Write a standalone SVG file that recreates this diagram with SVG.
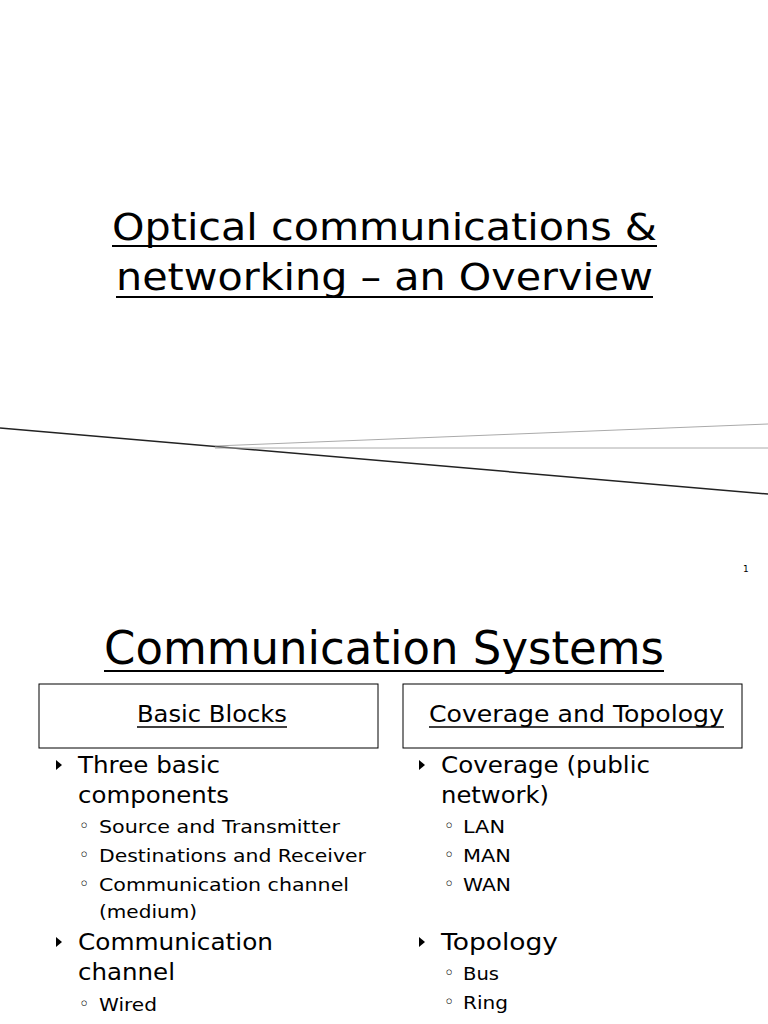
<svg xmlns="http://www.w3.org/2000/svg" width="768" height="1024" viewBox="0 0 768 1024">
<style>
text{font-family:"DejaVu Sans","Open Sans",sans-serif;fill:#000}
.t{font-size:38px}
.b{font-size:23px}
.s{font-size:18px}
.bx{fill:#fff;stroke:#000;stroke-width:1}
</style>
<rect width="768" height="1024" fill="#fff"/>
<g id="slide1">
<text class="t" x="112" y="240" textLength="545" lengthAdjust="spacingAndGlyphs">Optical communications &amp;</text>
<line x1="112" y1="246" x2="657" y2="246" stroke="#000" stroke-width="2"/>
<text class="t" x="116" y="290" textLength="537" lengthAdjust="spacingAndGlyphs">networking – an Overview</text>
<line x1="116" y1="297" x2="653" y2="297" stroke="#000" stroke-width="2"/>
<line x1="0" y1="428" x2="768" y2="494" stroke="#222" stroke-width="1.5"/>
<line x1="215" y1="446" x2="768" y2="424" stroke="#aaa" stroke-width="1"/>
<line x1="215" y1="448" x2="768" y2="448" stroke="#aaa" stroke-width="1"/>
<text x="743" y="572" style="font-size:9px">1</text>
</g>
<g id="slide2">
<text x="104" y="664" style="font-size:46px" textLength="560" lengthAdjust="spacingAndGlyphs">Communication Systems</text>
<line x1="104" y1="671" x2="664" y2="671" stroke="#000" stroke-width="2"/>
<g id="basic-blocks">
<rect class="bx" x="39" y="684" width="339" height="64"/>
<text x="137" y="722" style="font-size:23px" textLength="150" lengthAdjust="spacingAndGlyphs">Basic Blocks</text>
<line x1="137" y1="727" x2="287" y2="727" stroke="#000" stroke-width="1.3"/>
</g>
<g id="coverage-topology">
<rect class="bx" x="403" y="684" width="339" height="64"/>
<text x="429" y="722" style="font-size:23px" textLength="295" lengthAdjust="spacingAndGlyphs">Coverage and Topology</text>
<line x1="429" y1="727" x2="724" y2="727" stroke="#000" stroke-width="1.3"/>
</g>
<g id="left-col">
<polygon points="56,760 62,765 56,770"/>
<text class="b" x="78" y="773" textLength="142" lengthAdjust="spacingAndGlyphs">Three basic</text>
<text class="b" x="78" y="803" textLength="151" lengthAdjust="spacingAndGlyphs">components</text>
<text class="s" x="79" y="832">◦</text><text class="s" x="99" y="833" textLength="241" lengthAdjust="spacingAndGlyphs">Source and Transmitter</text>
<text class="s" x="79" y="861">◦</text><text class="s" x="99" y="862" textLength="267" lengthAdjust="spacingAndGlyphs">Destinations and Receiver</text>
<text class="s" x="79" y="890">◦</text><text class="s" x="99" y="891" textLength="250" lengthAdjust="spacingAndGlyphs">Communication channel</text>
<text class="s" x="99" y="918" textLength="98" lengthAdjust="spacingAndGlyphs">(medium)</text>
<polygon points="56,937 62,942 56,947"/>
<text class="b" x="78" y="950" textLength="195" lengthAdjust="spacingAndGlyphs">Communication</text>
<text class="b" x="78" y="980" textLength="97" lengthAdjust="spacingAndGlyphs">channel</text>
<text class="s" x="79" y="1010">◦</text><text class="s" x="99" y="1011" textLength="58" lengthAdjust="spacingAndGlyphs">Wired</text>
</g>
<g id="right-col">
<polygon points="419,760 425,765 419,770"/>
<text class="b" x="441" y="773" textLength="209" lengthAdjust="spacingAndGlyphs">Coverage (public</text>
<text class="b" x="441" y="803" textLength="108" lengthAdjust="spacingAndGlyphs">network)</text>
<text class="s" x="444" y="832">◦</text><text class="s" x="463" y="833" textLength="42" lengthAdjust="spacingAndGlyphs">LAN</text>
<text class="s" x="444" y="861">◦</text><text class="s" x="463" y="862" textLength="48" lengthAdjust="spacingAndGlyphs">MAN</text>
<text class="s" x="444" y="890">◦</text><text class="s" x="463" y="891" textLength="48" lengthAdjust="spacingAndGlyphs">WAN</text>
<polygon points="419,937 425,942 419,947"/>
<text class="b" x="441" y="950" textLength="117" lengthAdjust="spacingAndGlyphs">Topology</text>
<text class="s" x="444" y="979">◦</text><text class="s" x="463" y="980" textLength="36" lengthAdjust="spacingAndGlyphs">Bus</text>
<text class="s" x="444" y="1008">◦</text><text class="s" x="463" y="1009" textLength="45" lengthAdjust="spacingAndGlyphs">Ring</text>
<text class="s" x="444" y="1037">◦</text><text class="s" x="463" y="1038">Mesh</text>
</g>
</g>
</svg>
